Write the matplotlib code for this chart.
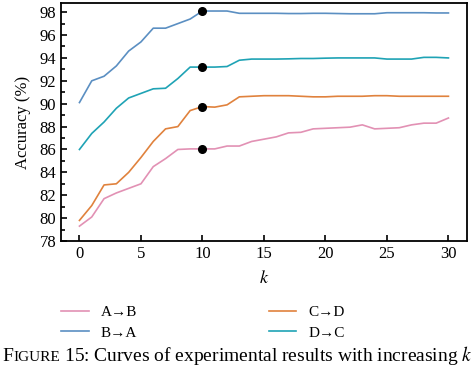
import matplotlib
matplotlib.use("Agg")
import matplotlib.pyplot as plt
from matplotlib.ticker import MultipleLocator

k = list(range(31))
a_to_b = [79.3, 80.1, 81.7, 82.2, 82.6, 83.0, 84.5, 85.2, 86.0, 86.05, 86.05,
          86.05, 86.3, 86.3, 86.7, 86.9, 87.1, 87.45, 87.5, 87.8, 87.85,
          87.9, 87.95, 88.15, 87.8, 87.85, 87.9, 88.15, 88.3, 88.3, 88.75]
b_to_a = [90.1, 92.0, 92.4, 93.3, 94.6, 95.4, 96.6, 96.6, 97.0, 97.4, 98.1,
          98.1, 98.1, 97.9, 97.9, 97.9, 97.9, 97.88, 97.88, 97.9, 97.9,
          97.88, 97.86, 97.86, 97.86, 97.95, 97.95, 97.95, 97.95, 97.93, 97.93]
c_to_d = [79.8, 81.1, 82.9, 83.0, 84.0, 85.3, 86.7, 87.8, 88.0, 89.4, 89.75,
          89.7, 89.9, 90.6, 90.65, 90.7, 90.7, 90.7, 90.65, 90.6, 90.6,
          90.65, 90.65, 90.65, 90.7, 90.7, 90.65, 90.65, 90.65, 90.65, 90.65]
d_to_c = [86.0, 87.4, 88.4, 89.6, 90.5, 90.9, 91.3, 91.35, 92.2, 93.2, 93.2,
          93.2, 93.25, 93.8, 93.9, 93.9, 93.9, 93.92, 93.95, 93.95, 93.98,
          94.0, 94.0, 94.0, 94.0, 93.9, 93.9, 93.9, 94.05, 94.05, 94.0]
labels = ["A→B", "B→A", "C→D", "D→C"]
colors = ["#e291b4", "#5b8fc2", "#e0823d", "#1fa3b5"]
best_k = 10

serif = ["Liberation Serif", "DejaVu Serif"]
plt.rcParams["font.family"] = serif
plt.rcParams["mathtext.fontset"] = "stix"

fig = plt.figure(figsize=(4.74, 3.67), dpi=100)
ax = fig.add_axes([0.1287, 0.3433, 0.8563, 0.6485])

series = [a_to_b, b_to_a, c_to_d, d_to_c]
handles = []
for s, lab, col in zip(series, labels, colors):
    h, = ax.plot(k, s, color=col, lw=1.2, label=lab)
    handles.append(h)
    ax.plot([best_k], [s[best_k]], "o", color="black", ms=5.5, zorder=5)

ax.set_xlim(-1.5, 31.5)
ax.set_ylim(78, 98.8)
ax.xaxis.set_major_locator(MultipleLocator(5))
ax.yaxis.set_major_locator(MultipleLocator(2))
ax.yaxis.set_minor_locator(MultipleLocator(1))
ax.tick_params(direction="in", which="both", labelsize=12, length=4, width=1.2)
ax.tick_params(which="minor", length=3)
for sp in ax.spines.values():
    sp.set_linewidth(1.3)

ax.set_ylabel("Accuracy (%)", fontsize=12, labelpad=6)
ax.set_xlabel("$k$", fontsize=13, labelpad=6)

fig.legend(handles=handles, labels=labels, ncol=2, loc="upper left",
           bbox_to_anchor=(0.1, 0.205), frameon=False, fontsize=11,
           handlelength=1.8, columnspacing=8.6, labelspacing=0.45,
           handletextpad=0.8)

# caption with simulated small caps
big = 14
small = 11
base = 0.016
t1 = fig.text(0.006, base, "F", fontsize=big, ha="left", va="baseline")
t2 = fig.text(0, base, "IGURE", fontsize=small, ha="left", va="baseline")
t3 = fig.text(0, base, " 15: Curves of experimental results with increasing $k$",
              fontsize=big, ha="left", va="baseline")
fig.canvas.draw()
r = fig.canvas.get_renderer()
x1 = t1.get_window_extent(r).x1 / fig.bbox.width
t2.set_position((x1, base))
fig.canvas.draw()
x2 = t2.get_window_extent(r).x1 / fig.bbox.width
t3.set_position((x2, base))

fig.savefig("out.png", dpi=100)
